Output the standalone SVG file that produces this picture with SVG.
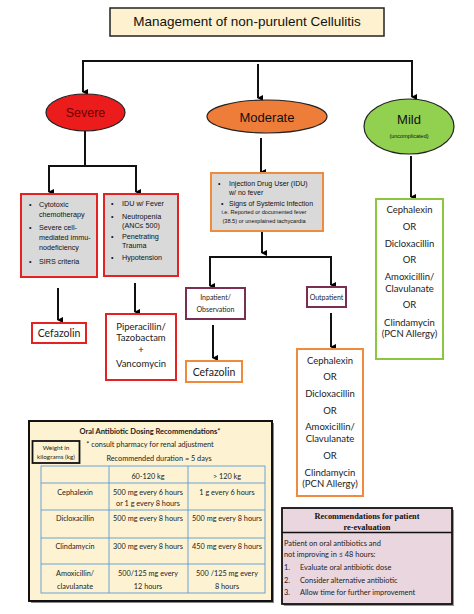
<svg xmlns="http://www.w3.org/2000/svg" width="474" height="614" viewBox="0 0 474 614">
<defs>
<marker id="ah" markerUnits="userSpaceOnUse" markerWidth="7" markerHeight="7" refX="3.5" refY="6" orient="auto-start-reverse" viewBox="0 0 7 7">
<path d="M0.5,1 L3.5,7 L6.5,1 Z" fill="#000"/>
</marker>
</defs>
<style>
.ln{stroke:#111;stroke-width:2;fill:none}
.ar{stroke:#111;stroke-width:2;fill:none;marker-end:url(#ah)}
.a{font-family:"Liberation Sans",Arial,sans-serif;fill:#111}
.c{font-family:Lato,"Liberation Sans",sans-serif;fill:#222}
.s{font-family:"Liberation Serif","Times New Roman",serif;fill:#111}
.gbox{fill:#d9d9d9}
.mid{text-anchor:middle}
</style>
<rect width="474" height="614" fill="#fff"/>

<g id="title">
<rect x="110" y="8" width="274" height="28" fill="#fdf1cf" stroke="#222" stroke-width="1.5"/>
<text x="247" y="26" class="a mid" font-size="13.5">Management of non-purulent Cellulitis</text>
</g>

<g id="connectors">
<path class="ln" d="M82,61 H413"/>
<path class="ar" d="M83,61 V92"/>
<path class="ar" d="M258,64 V98"/>
<path class="ar" d="M412,61 V97"/>
<path class="ln" d="M85,131 V166"/>
<path class="ln" d="M48,166 H137"/>
<path class="ar" d="M49,166 V192"/>
<path class="ar" d="M136,166 V192"/>
<path class="ar" d="M58,288 V320"/>
<path class="ar" d="M135,283 V312"/>
<path class="ar" d="M261,138 V172"/>
<path class="ar" d="M262,231 V253"/>
<path class="ln" d="M209,257 H332"/>
<path class="ar" d="M210,257 V286"/>
<path class="ar" d="M331,257 V285"/>
<path class="ar" d="M213,325 V358"/>
<path class="ar" d="M331,313 V347"/>
<path class="ar" d="M411,156 V197"/>
</g>

<g id="severe">
<ellipse cx="85.5" cy="112.5" rx="39.5" ry="18.5" fill="#ec1c1c" stroke="#222" stroke-width="1.2"/>
<text x="85.5" y="117" class="a mid" font-size="12.5" fill="#6a0000" style="fill:#6a0000">Severe</text>
</g>

<g id="moderate">
<ellipse cx="267" cy="116.5" rx="60" ry="16.5" fill="#ee7d3a" stroke="#222" stroke-width="1.2"/>
<text x="267" y="121.5" class="a mid" font-size="13">Moderate</text>
</g>

<g id="mild">
<ellipse cx="409" cy="126.5" rx="45" ry="27.5" fill="#92d050" stroke="#222" stroke-width="1.2"/>
<text x="409" y="124" class="a mid" font-size="13">Mild</text>
<text x="409" y="138" class="a mid" font-size="5.5">(uncomplicated)</text>
</g>

<g id="severe-criteria-1">
<rect x="21" y="194" width="76" height="83" class="gbox" stroke="#e52222" stroke-width="2"/>
<g class="a" font-size="7.2">
<text x="29" y="206.5">•</text><text x="39" y="206.5">Cytotoxic</text>
<text x="39" y="216.5">chemotherapy</text>
<text x="29" y="229.5">•</text><text x="39" y="229.5">Severe cell-</text>
<text x="39" y="239.5">mediated immu-</text>
<text x="39" y="250">nodeficiency</text>
<text x="29" y="264">•</text><text x="39" y="264">SIRS criteria</text>
</g>
</g>

<g id="severe-criteria-2">
<rect x="104" y="194" width="74" height="82" class="gbox" stroke="#e52222" stroke-width="2"/>
<g class="a" font-size="7.2">
<text x="111" y="205.5">•</text><text x="122" y="205.5">IDU w/ Fever</text>
<text x="111" y="218.5">•</text><text x="122" y="218.5">Neutropenia</text>
<text x="122" y="227.5">(ANC≤ 500)</text>
<text x="111" y="238.5">•</text><text x="122" y="238.5">Penetrating</text>
<text x="122" y="247.5">Trauma</text>
<text x="111" y="259.5">•</text><text x="122" y="259.5">Hypotension</text>
</g>
</g>

<g id="cefazolin-severe">
<rect x="32" y="323" width="54" height="20" fill="#fff" stroke="#e52222" stroke-width="2"/>
<text x="59" y="337" class="c mid" font-size="10.5">Cefazolin</text>
</g>

<g id="pip-tazo">
<rect x="106" y="314" width="70" height="66" fill="#fff" stroke="#e52222" stroke-width="2"/>
<g class="c mid" font-size="9.5">
<text x="141" y="329.5">Piperacillin/</text>
<text x="141" y="340.5">Tazobactam</text>
<text x="141" y="353">+</text>
<text x="141" y="366.5">Vancomycin</text>
</g>
</g>

<g id="moderate-criteria">
<rect x="211" y="173" width="112" height="58" class="gbox" stroke="#f08a3c" stroke-width="2"/>
<g class="a" font-size="7">
<text x="218" y="185.5">•</text><text x="229" y="185.5">Injection Drug User  (IDU)</text>
<text x="229" y="194.5">w/  no fever</text>
<text x="221" y="205.5">•</text><text x="229" y="205.5">Signs of Systemic Infection</text>
</g>
<g class="a mid" font-size="5.6">
<text x="264" y="214">i.e. Reported or documented fever</text>
<text x="264" y="222.5">(38.5) or unexplained tachycardia</text>
</g>
</g>

<g id="inpatient">
<rect x="186" y="288" width="59" height="31" fill="#fff" stroke="#7a2e52" stroke-width="2"/>
<text x="215.5" y="299.5" class="c mid" font-size="7">Inpatient/</text>
<text x="215.5" y="311.5" class="c mid" font-size="7">Observation</text>
</g>

<g id="outpatient">
<rect x="307" y="287" width="39" height="20" fill="#fff" stroke="#7a2e52" stroke-width="2"/>
<text x="326.5" y="300" class="c mid" font-size="7">Outpatient</text>
</g>

<g id="cefazolin-moderate">
<rect x="186" y="361" width="56" height="21" fill="#fff" stroke="#f08a3c" stroke-width="2"/>
<text x="214" y="375.5" class="c mid" font-size="10.5">Cefazolin</text>
</g>

<g id="outpatient-options">
<rect x="297" y="349" width="66" height="147" fill="#fff" stroke="#f08a3c" stroke-width="2"/>
<g class="c mid" font-size="9.5">
<text x="330" y="363.5">Cephalexin</text>
<text x="330" y="379.5">OR</text>
<text x="330" y="396.5">Dicloxacillin</text>
<text x="330" y="413.5">OR</text>
<text x="330" y="429.5">Amoxicillin/</text>
<text x="330" y="441.5">Clavulanate</text>
<text x="330" y="458.5">OR</text>
<text x="330" y="475.5">Clindamycin</text>
<text x="330" y="486.5">(PCN Allergy)</text>
</g>
</g>

<g id="mild-options">
<rect x="376" y="199" width="67" height="160" fill="#fff" stroke="#8cc63f" stroke-width="2"/>
<g class="c mid" font-size="9.5">
<text x="409.5" y="212.5">Cephalexin</text>
<text x="409.5" y="229.5">OR</text>
<text x="409.5" y="246.5">Dicloxacillin</text>
<text x="409.5" y="262.5">OR</text>
<text x="409.5" y="279.5">Amoxicillin/</text>
<text x="409.5" y="291.5">Clavulanate</text>
<text x="409.5" y="307.5">OR</text>
<text x="409.5" y="325.5">Clindamycin</text>
<text x="409.5" y="336.5">(PCN Allergy)</text>
</g>
</g>

<g id="dosing-table">
<rect x="31" y="423" width="243" height="180" fill="#888"/>
<rect x="29" y="421" width="243" height="180" fill="#fdf3d3" stroke="#111" stroke-width="2"/>
<text x="150" y="433.5" class="c mid" font-size="7.5" font-weight="bold">Oral Antibiotic Dosing Recommendations*</text>
<rect x="32.5" y="441" width="47" height="22" fill="#fdf3d3" stroke="#111" stroke-width="1.8"/>
<text x="56" y="450" class="c mid" font-size="6.3">Weight in</text>
<text x="56" y="458.5" class="c mid" font-size="6.3">kilograms (kg)</text>
<text x="150" y="446.5" class="c mid" font-size="7.3">* consult pharmacy for renal adjustment</text>
<text x="159" y="460.5" class="c mid" font-size="7.3">Recommended duration = 5 days</text>
<g stroke="#5b9bd5" stroke-width="0.9" fill="none">
<rect x="41" y="466" width="224" height="127" fill="#fdf3d3"/>
<path d="M41,483 H265 M41,510 H265 M41,538 H265 M41,564 H265 M109,466 V593 M188,466 V593"/>
</g>
<g class="c mid" font-size="7.3">
<text x="148" y="478.5">60-120 kg</text>
<text x="227" y="478.5">&gt; 120 kg</text>
<text x="75" y="494.5">Cephalexin</text>
<text x="148" y="494.5">500 mg every 6 hours</text>
<text x="148" y="505.5">or 1 g every 8  hours</text>
<text x="227" y="494.5">1 g every 6 hours</text>
<text x="75" y="520.5">Dicloxacillin</text>
<text x="148" y="520.5">500 mg every 8 hours</text>
<text x="227" y="520.5">500 mg every 8 hours</text>
<text x="75" y="548.5">Clindamycin</text>
<text x="148" y="548.5">300 mg every 8 hours</text>
<text x="227" y="548.5">450 mg every 8 hours</text>
<text x="75" y="575.5">Amoxicillin/</text>
<text x="75" y="588.5">clavulanate</text>
<text x="148" y="575.5">500/125 mg every</text>
<text x="148" y="588.5">12 hours</text>
<text x="227" y="575.5">500 /125 mg every</text>
<text x="227" y="588.5">8 hours</text>
</g>
</g>

<g id="reevaluation">
<rect x="284" y="510" width="170" height="96" fill="#999"/>
<rect x="282" y="508" width="170" height="96" fill="#ead6df" stroke="#111" stroke-width="1.8"/>
<path d="M282,532.5 H452" stroke="#111" stroke-width="1.5"/>
<text x="367" y="519" class="s mid" font-size="8.3" font-weight="bold">Recommendations for patient</text>
<text x="367" y="529.5" class="s mid" font-size="8.3" font-weight="bold">re-evaluation</text>
<g class="c" font-size="7.4">
<text x="284" y="545.5">Patient on oral antibiotics and</text>
<text x="284" y="556.5">not improving in ≤ 48 hours:</text>
<text x="284" y="569.5">1.</text><text x="300" y="569.5">Evaluate oral antibiotic dose</text>
<text x="284" y="582.5">2.</text><text x="300" y="582.5">Consider alternative antibiotic</text>
<text x="284" y="595">3.</text><text x="300" y="595">Allow time for further improvement</text>
</g>
</g>
</svg>
